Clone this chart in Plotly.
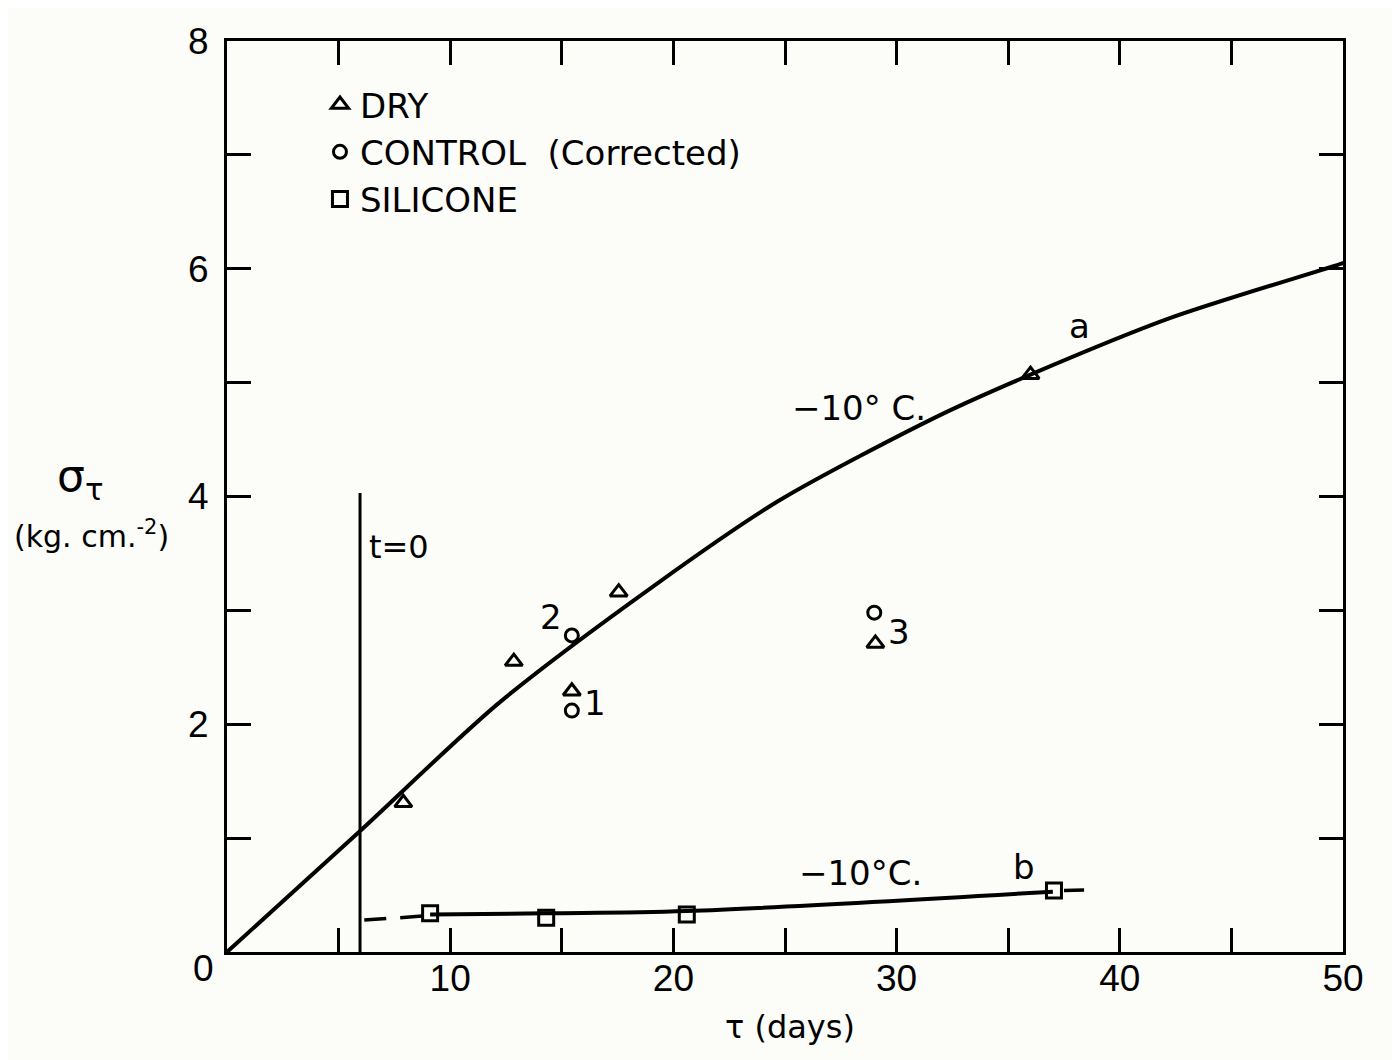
import plotly.graph_objects as go

# measured points (days, kg cm^-2)
dry_t = [7.9, 12.85, 15.45, 17.55, 29.05, 36.0]
dry_s = [1.31, 2.55, 2.29, 3.16, 2.71, 5.07]

control_t = [15.45, 15.45, 29.0]
control_s = [2.78, 2.12, 2.98]

silicone_t = [9.1, 14.3, 20.6, 37.05]
silicone_s = [0.34, 0.30, 0.33, 0.54]

# curve a (-10 C, dry)
curve_a_t = [0, 6.0, 12.2, 19.3, 24.7, 31.9, 36.0, 42.3, 50.0, 50.7]
curve_a_s = [0, 1.07, 2.19, 3.24, 3.96, 4.71, 5.07, 5.57, 6.05, 6.10]

# curve b (-10 C, silicone)
curve_b_t = [9.1, 14.3, 20.6, 37.0]
curve_b_s = [0.33, 0.34, 0.36, 0.53]
curve_b_lead_t = [6.15, 9.1]
curve_b_lead_s = [0.28, 0.32]
curve_b_tail_t = [37.5, 38.4]
curve_b_tail_s = [0.54, 0.545]

# t = 0 marker line
t0_t = [5.96, 5.96]
t0_s = [0, 4.03]

x_ticks = [5, 10, 15, 20, 25, 30, 35, 40, 45, 50]
x_labels = ["", "10", "", "20", "", "30", "", "40", "", "50"]
y_ticks = [1, 2, 3, 4, 5, 6, 7, 8]
y_labels = ["", "2", "", "4", "", "6", "", "8"]

FONT = "DejaVu Sans"
TICKFONT = "Liberation Sans"
INK = "black"

fig = go.Figure()

fig.add_trace(go.Scatter(x=curve_a_t, y=curve_a_s, mode="lines",
                         line=dict(color=INK, width=4, shape="spline", smoothing=0.8),
                         showlegend=False, cliponaxis=False, hoverinfo="skip"))
fig.add_trace(go.Scatter(x=curve_b_t, y=curve_b_s, mode="lines", line=dict(color=INK, width=4, shape="spline"),
                         showlegend=False, hoverinfo="skip"))
fig.add_trace(go.Scatter(x=curve_b_lead_t, y=curve_b_lead_s, mode="lines",
                         line=dict(color=INK, width=3.5, dash="22px,14px"), showlegend=False, hoverinfo="skip"))
fig.add_trace(go.Scatter(x=curve_b_tail_t, y=curve_b_tail_s, mode="lines", line=dict(color=INK, width=3.5),
                         showlegend=False, hoverinfo="skip"))
fig.add_trace(go.Scatter(x=t0_t, y=t0_s, mode="lines", line=dict(color=INK, width=3),
                         showlegend=False, hoverinfo="skip"))

fig.add_trace(go.Scatter(x=dry_t, y=dry_s, mode="markers", name="DRY",
                         marker=dict(symbol="triangle-up-open", size=15, color=INK, line=dict(width=3, color=INK))))
fig.add_trace(go.Scatter(x=control_t, y=control_s, mode="markers", name="CONTROL  (Corrected)",
                         marker=dict(symbol="circle-open", size=13, color=INK, line=dict(width=3, color=INK))))
fig.add_trace(go.Scatter(x=silicone_t, y=silicone_s, mode="markers", name="SILICONE",
                         marker=dict(symbol="square-open", size=15, color=INK, line=dict(width=3, color=INK))))

labels = [
    ("t=0", 6.25, 3.56, "left", 32),
    ("2", 14.5, 2.94, "center", 34),
    ("1", 16.5, 2.19, "center", 34),
    ("3", 30.1, 2.81, "center", 34),
    ("\u221210\u00b0 C.", 28.3, 4.78, "center", 34),
    ("a", 38.2, 5.5, "center", 34),
    ("\u221210\u00b0C.", 28.4, 0.69, "center", 34),
    ("b", 35.7, 0.75, "center", 34),
]
for txt, lx, ly, anc, sz in labels:
    fig.add_annotation(x=lx, y=ly, text=txt, showarrow=False, xanchor=anc, yanchor="middle",
                       font=dict(family=FONT, size=sz, color=INK))

# shared origin label and axis titles
fig.add_annotation(x=-0.0215, y=-0.0176, xref="paper", yref="paper", text="0", showarrow=False,
                   xanchor="center", yanchor="middle", font=dict(family=TICKFONT, size=37, color=INK))
fig.add_annotation(x=-0.1317, y=0.52, xref="paper", yref="paper", text="\u03c3<sub>\u03c4</sub>",
                   showarrow=False, xanchor="center", yanchor="middle",
                   font=dict(family=FONT, size=44, color=INK))
fig.add_annotation(x=-0.121, y=0.458, xref="paper", yref="paper", text="(kg. cm.<sup>-2</sup>)",
                   showarrow=False, xanchor="center", yanchor="middle",
                   font=dict(family=FONT, size=30, color=INK))
fig.add_annotation(x=0.5045, y=-0.0823, xref="paper", yref="paper", text="\u03c4 (days)",
                   showarrow=False, xanchor="center", yanchor="middle",
                   font=dict(family=FONT, size=32, color=INK))

axis_common = dict(showline=True, linewidth=3, linecolor=INK, mirror="allticks", ticks="inside",
                   ticklen=24, tickwidth=3, tickcolor=INK, showgrid=False, zeroline=False,
                   tickfont=dict(family=TICKFONT, size=37, color=INK))

fig.update_xaxes(range=[0, 50], tickmode="array", tickvals=x_ticks, ticktext=x_labels,
                 ticklabelstandoff=-8, **axis_common)
fig.update_yaxes(range=[0, 8], tickmode="array", tickvals=y_ticks, ticktext=y_labels,
                 ticklabelstandoff=8, **axis_common)

fig.update_layout(
    width=1400, height=1060,
    margin=dict(l=219, r=65, t=33, b=116),
    paper_bgcolor="#fcfcf9", plot_bgcolor="#fcfcf9",
    legend=dict(x=0.0833, y=0.9616, xanchor="left", yanchor="top", bgcolor="rgba(0,0,0,0)",
                font=dict(family=FONT, size=34, color=INK), tracegroupgap=0),
)

fig.write_html("out.html")
